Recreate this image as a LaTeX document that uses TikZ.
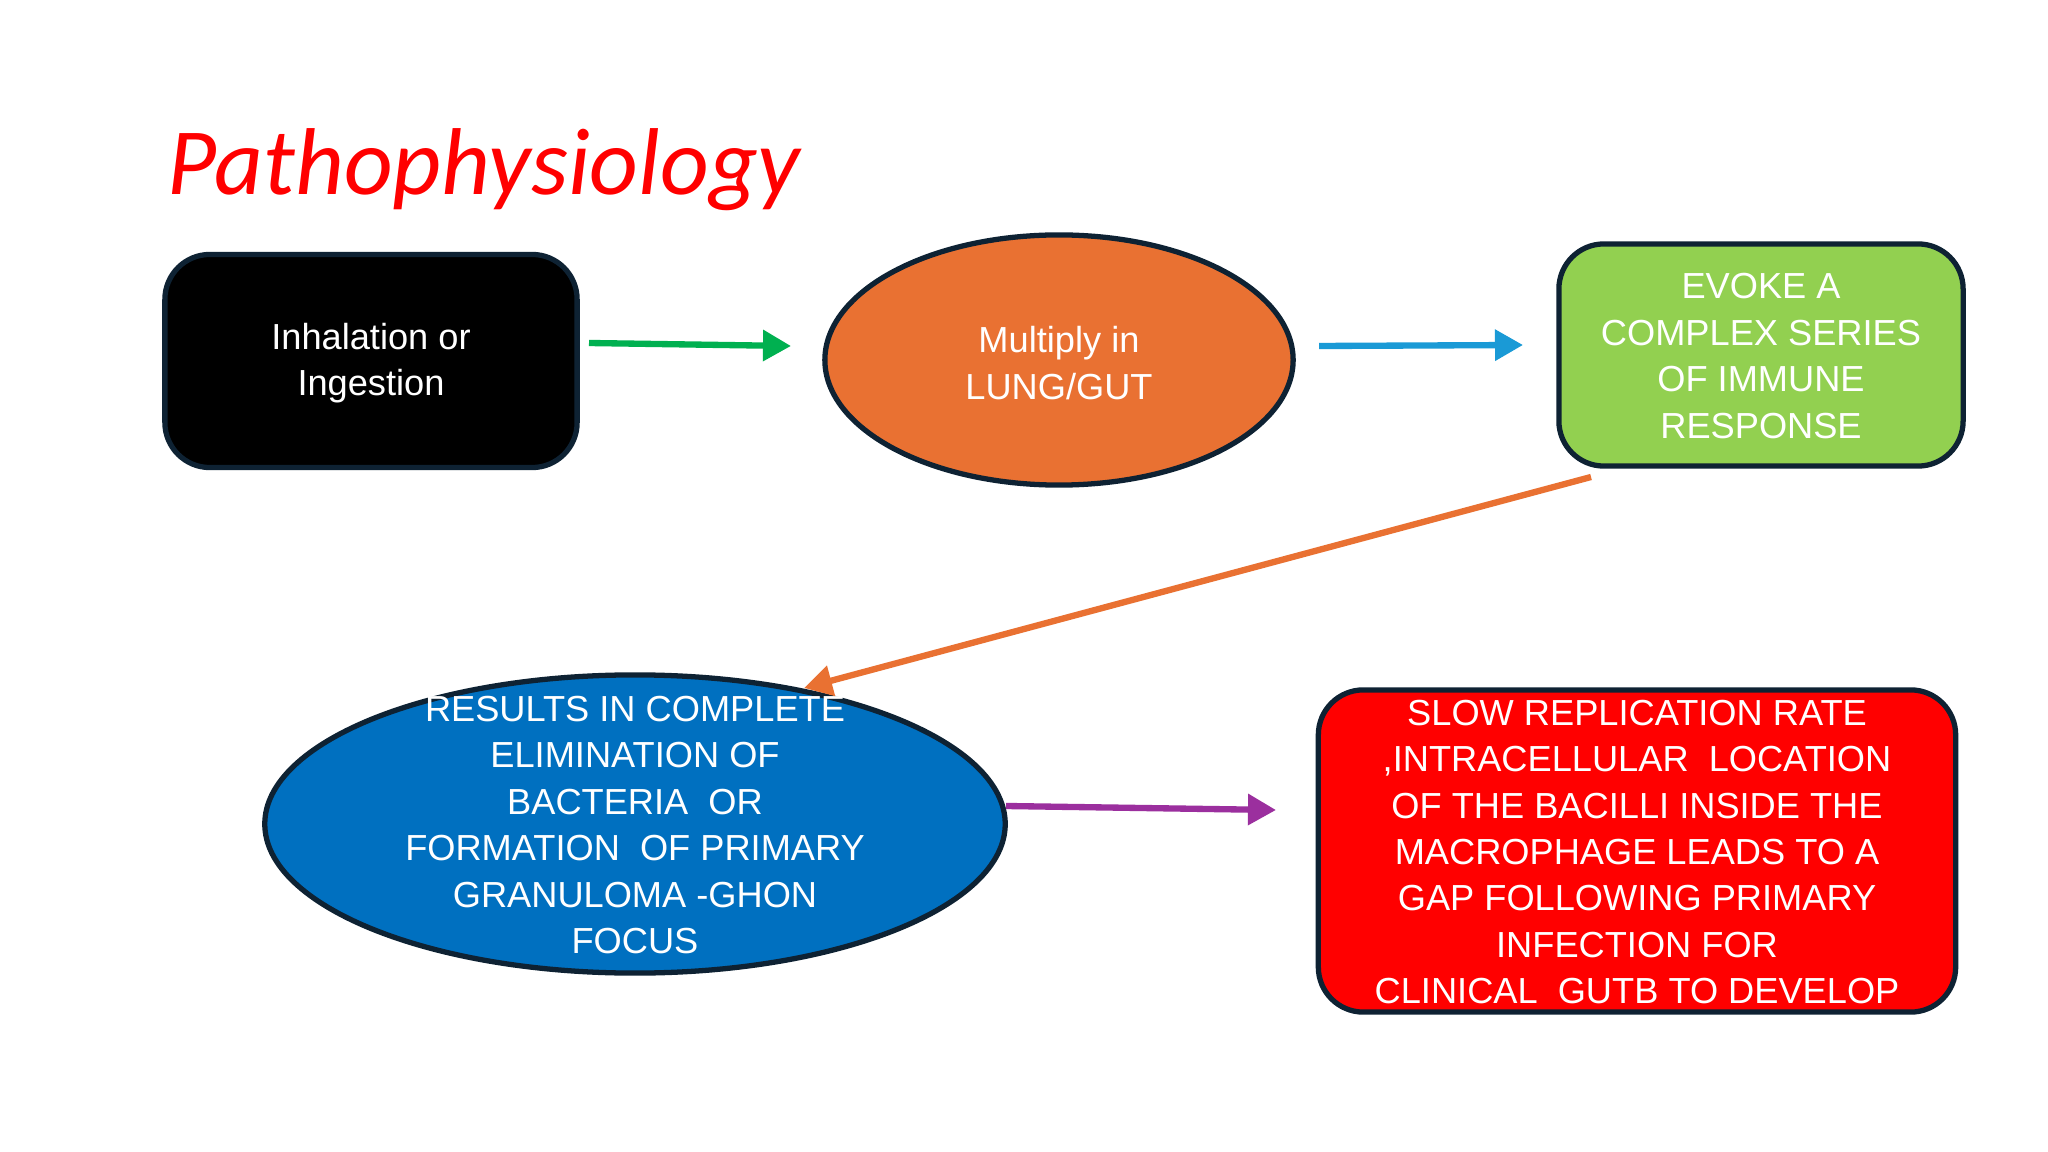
\documentclass[tikz,border=0pt]{standalone}
\usepackage{fontspec}
\setmainfont{Liberation Sans}
\newfontfamily\titlefont{Carlito}
\usetikzlibrary{shapes.geometric,arrows.meta}
\definecolor{borange}{HTML}{E97132}
\definecolor{bgreen}{HTML}{92D050}
\definecolor{bblue}{HTML}{0070C0}
\definecolor{bborder}{HTML}{0E2233}
\definecolor{agreen}{HTML}{00B050}
\definecolor{ablue}{HTML}{1A9AD6}
\definecolor{apurple}{HTML}{9B2F9E}
\begin{document}
\begin{tikzpicture}[x=0.01cm,y=-0.01cm,
  box/.style={draw=bborder,line width=1.5pt,rounded corners=0.45cm,inner sep=0},
  ell/.style={draw=bborder,line width=1.5pt,ellipse,inner sep=0},
  txt/.style={text=white,align=center,font=\fontsize{10.3}{13.2}\selectfont},
  arr/.style={line width=1.8pt,-{Triangle[length=0.28cm,width=0.3cm]}}]
\useasboundingbox (0,0) rectangle (2048,1152);
\fill[white] (0,0) rectangle (2048,1152);
\node[anchor=west,text=red,font=\titlefont\itshape\fontsize{27}{30}\selectfont] (title) at (155,170) {Pathophysiology};
\node[box,fill=black,minimum width=4.12cm,minimum height=2.13cm] (b1) at (371,361) {};
\node[txt] (t1) at (371,363) {Inhalation or\\Ingestion};
\node[ell,fill=borange,minimum width=4.68cm,minimum height=2.5cm] (e1) at (1059,360) {};
\node[txt] (t2) at (1059,363) {Multiply in\\LUNG/GUT};
\node[box,fill=bgreen,minimum width=4.04cm,minimum height=2.22cm] (b3) at (1761,355) {};
\node[txt] (t3) at (1761,356) {EVOKE A\\COMPLEX SERIES\\OF IMMUNE\\RESPONSE};
\node[ell,fill=bblue,minimum width=7.4cm,minimum height=2.98cm] (e2) at (635,824) {};
\node[txt] (t4) at (635,825) {RESULTS IN COMPLETE\\ELIMINATION OF\\BACTERIA\ \ OR\\FORMATION\ \ OF PRIMARY\\GRANULOMA -GHON\\FOCUS};
\node[box,fill=red,minimum width=6.37cm,minimum height=3.22cm] (b5) at (1637,851) {};
\node[txt] (t5) at (1637,852) {SLOW REPLICATION RATE\\,INTRACELLULAR\ \ LOCATION\\OF THE BACILLI INSIDE THE\\MACROPHAGE LEADS TO A\\GAP FOLLOWING PRIMARY\\INFECTION FOR\\CLINICAL\ \ GUTB TO DEVELOP};
\coordinate (a1s) at (589,343); \coordinate (a1e) at (791,346);
\coordinate (a2s) at (1319,346); \coordinate (a2e) at (1523,345);
\coordinate (a3s) at (1591,477); \coordinate (a3e) at (804,688);
\coordinate (a4s) at (1006,806); \coordinate (a4e) at (1276,810);
\draw[arr,agreen] (a1s) -- (a1e);
\draw[arr,ablue] (a2s) -- (a2e);
\draw[arr,borange] (a3s) -- (a3e);
\draw[arr,apurple] (a4s) -- (a4e);
\end{tikzpicture}
\end{document}
